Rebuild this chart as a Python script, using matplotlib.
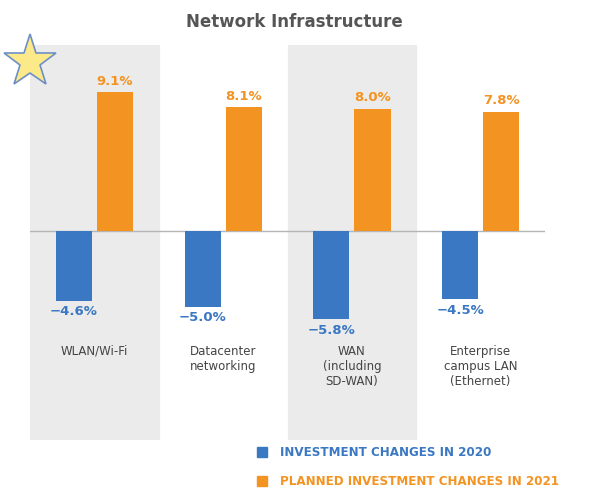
import matplotlib.pyplot as plt
from matplotlib.lines import Line2D

categories = ["WLAN/Wi-Fi", "Datacenter\nnetworking", "WAN\n(including\nSD-WAN)", "Enterprise\ncampus LAN\n(Ethernet)"]
changes_2020 = [-4.6, -5.0, -5.8, -4.5]
planned_2021 = [9.1, 8.1, 8.0, 7.8]

blue = "#3a78c3"
orange = "#f39322"
W, H = 600, 498

fig = plt.figure(figsize=(6, 4.98), dpi=100)
ax = fig.add_axes([30 / W, 1 - 440 / H, 515 / W, 395 / H])
ax.set_xlim(0, 4)
ax.set_ylim(-13.75, 12.2)
ax.axis("off")

for i in (0, 2):
    ax.axvspan(i, i + 1, color="#ebebeb", zorder=0)
ax.axhline(0, color="#b5b5b5", lw=1, zorder=1)

w = 0.28
for i, (a, b) in enumerate(zip(changes_2020, planned_2021)):
    ax.bar(i + 0.34, a, w, color=blue, zorder=2)
    ax.bar(i + 0.66, b, w, color=orange, zorder=2)
    ax.text(i + 0.34, a - 0.3, f"\u2212{abs(a):.1f}%", ha="center", va="top",
            color=blue, fontsize=9.5, fontweight="bold")
    ax.text(i + 0.66, b + 0.3, f"{b:.1f}%", ha="center", va="bottom",
            color=orange, fontsize=9.5, fontweight="bold")
    ax.text(i + 0.5, -7.5, categories[i], ha="center", va="top",
            color="#444444", fontsize=8.5, linespacing=1.2)

fig.text(294 / W, 1 - 22 / H, "Network Infrastructure", ha="center", va="center",
         fontsize=12, fontweight="bold", color="#555555")

# star
fig.add_artist(Line2D([30 / W], [1 - 62 / H], marker="*", markersize=40,
                      markerfacecolor="#fbe98a", markeredgecolor="#6d8fc7",
                      markeredgewidth=1.2, transform=fig.transFigure))

# legend
for y, c, t in [(452, blue, "INVESTMENT CHANGES IN 2020"),
                (481, orange, "PLANNED INVESTMENT CHANGES IN 2021")]:
    fig.add_artist(plt.Rectangle((257 / W, 1 - (y + 5) / H), 10 / W, 10 / H,
                                 color=c, transform=fig.transFigure))
    fig.text(280 / W, 1 - y / H, t, ha="left", va="center", color=c,
             fontsize=8.6, fontweight="bold")

fig.savefig("out.png")
